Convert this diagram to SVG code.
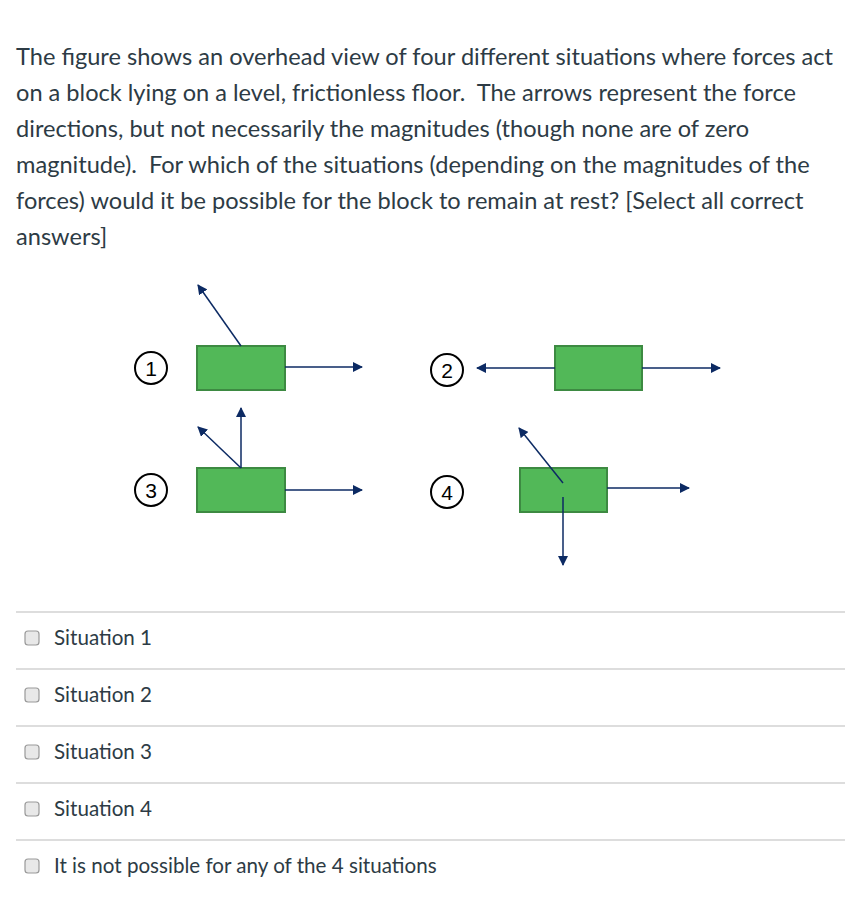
<svg xmlns="http://www.w3.org/2000/svg" width="861" height="904" viewBox="0 0 861 904">
<style>
.q{font-family:Lato,"Liberation Sans",sans-serif;font-size:23.6px;fill:#2d3b45;white-space:pre}
.o{font-family:Lato,"Liberation Sans",sans-serif;font-size:20.6px;fill:#2d3b45}
.blk{fill:#52b858;stroke:#3d8a42;stroke-width:2}
.f{stroke:#0c2a63;stroke-width:1.5;fill:none;marker-end:url(#ah)}
.c{fill:#fff;stroke:#000;stroke-width:2}
.n{font-family:"Liberation Sans",sans-serif;font-size:21px;text-anchor:middle}
.sep{stroke:#ddd;stroke-width:2}
.cb{fill:#e8e8e8;stroke:#999;stroke-width:1.2}
</style>
<defs><marker id="ah" viewBox="0 0 10 10" refX="9" refY="5" markerWidth="10" markerHeight="10" markerUnits="userSpaceOnUse" orient="auto"><path d="M0,0L10,5L0,10z" fill="#0c2a63"/></marker></defs>
<rect width="861" height="904" fill="#fff"/>
<g id="question">
<text class="q" x="16" y="65">The figure shows an overhead view of four different situations where forces act</text>
<text class="q" x="16" y="101">on a block lying on a level, frictionless floor.  The arrows represent the force</text>
<text class="q" x="16" y="137">directions, but not necessarily the magnitudes (though none are of zero</text>
<text class="q" x="16" y="173">magnitude).  For which of the situations (depending on the magnitudes of the</text>
<text class="q" x="16" y="209">forces) would it be possible for the block to remain at rest? [Select all correct</text>
<text class="q" x="16" y="245">answers]</text>
</g>
<g id="s1"><circle class="c" cx="151" cy="368" r="16"/><text class="n" x="151" y="376">1</text><rect class="blk" x="197" y="346" width="88" height="44"/></g>
<g id="s2"><circle class="c" cx="447" cy="370" r="16"/><text class="n" x="447" y="378">2</text><rect class="blk" x="555" y="346" width="87" height="44"/></g>
<g id="s3"><circle class="c" cx="151" cy="490" r="16"/><text class="n" x="151" y="498">3</text><rect class="blk" x="197" y="468" width="88" height="44"/></g>
<g id="s4"><circle class="c" cx="447" cy="492" r="16"/><text class="n" x="447" y="500">4</text><rect class="blk" x="520" y="468" width="87" height="44"/></g>
<g id="connectors">
<line class="f" x1="241" y1="346" x2="198" y2="285"/>
<line class="f" x1="285" y1="367" x2="362" y2="367"/>
<line class="f" x1="555" y1="368" x2="477" y2="368"/>
<line class="f" x1="642" y1="368" x2="720" y2="368"/>
<line class="f" x1="241" y1="468" x2="241" y2="408"/>
<line class="f" x1="241" y1="468" x2="198" y2="427"/>
<line class="f" x1="285" y1="490" x2="362" y2="490"/>
<line class="f" x1="563" y1="483" x2="519" y2="428"/>
<line class="f" x1="563" y1="497" x2="563" y2="565"/>
<line class="f" x1="607" y1="488" x2="689" y2="488"/>
</g>
<g id="options">
<line class="sep" x1="16" y1="612" x2="845" y2="612"/>
<line class="sep" x1="16" y1="669" x2="845" y2="669"/>
<line class="sep" x1="16" y1="726" x2="845" y2="726"/>
<line class="sep" x1="16" y1="783" x2="845" y2="783"/>
<line class="sep" x1="16" y1="840" x2="845" y2="840"/>
<rect class="cb" x="25" y="631" width="14" height="14" rx="3"/><text class="o" x="54" y="645">Situation 1</text>
<rect class="cb" x="25" y="688" width="14" height="14" rx="3"/><text class="o" x="54" y="702">Situation 2</text>
<rect class="cb" x="25" y="745" width="14" height="14" rx="3"/><text class="o" x="54" y="759">Situation 3</text>
<rect class="cb" x="25" y="802" width="14" height="14" rx="3"/><text class="o" x="54" y="816">Situation 4</text>
<rect class="cb" x="25" y="859" width="14" height="14" rx="3"/><text class="o" x="54" y="873">It is not possible for any of the 4 situations</text>
</g>
</svg>
